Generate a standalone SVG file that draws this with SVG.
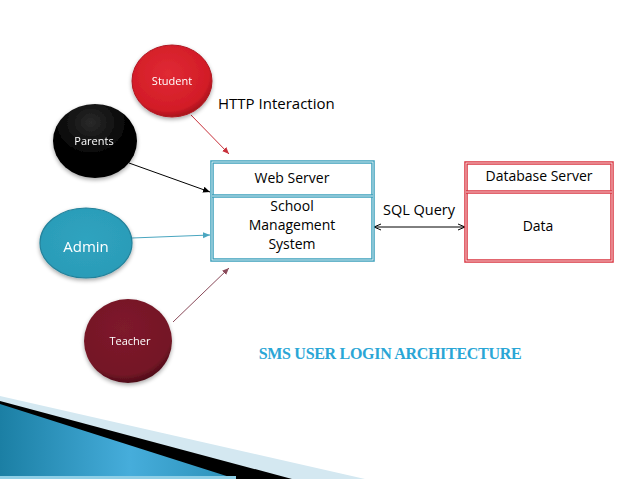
<svg xmlns="http://www.w3.org/2000/svg" width="638" height="479" viewBox="0 0 638 479">
<defs>
<style>
.lbl{font-family:"Open Sans","Liberation Sans",sans-serif;fill:#000;text-anchor:middle}
.box{font-size:14px}
.circ{font-family:"Open Sans","Liberation Sans",sans-serif;fill:#fff;text-anchor:middle;font-size:11px}
.conn{fill:none;stroke-width:1}
</style>
<radialGradient id="gRed" cx="0.45" cy="0.4" r="0.6">
<stop offset="0" stop-color="#e02a34"/><stop offset="0.85" stop-color="#d21c27"/><stop offset="1" stop-color="#a8121c"/>
</radialGradient>
<radialGradient id="gBlack" cx="0.45" cy="0.25" r="0.7">
<stop offset="0" stop-color="#2a2a2a"/><stop offset="0.6" stop-color="#050505"/><stop offset="1" stop-color="#000"/>
</radialGradient>
<radialGradient id="gTeal" cx="0.5" cy="0.45" r="0.6">
<stop offset="0" stop-color="#2fa3bf"/><stop offset="0.9" stop-color="#2b9cb8"/><stop offset="1" stop-color="#1f7d96"/>
</radialGradient>
<radialGradient id="gMaroon" cx="0.45" cy="0.35" r="0.65">
<stop offset="0" stop-color="#7e1a2b"/><stop offset="0.85" stop-color="#741626"/><stop offset="1" stop-color="#4e0c18"/>
</radialGradient>
<linearGradient id="gBlue" x1="0" y1="0" x2="1" y2="0">
<stop offset="0" stop-color="#1b7fa4"/><stop offset="0.55" stop-color="#46addb"/><stop offset="1" stop-color="#2b90b8"/>
</linearGradient>
<filter id="sh" x="-30%" y="-30%" width="160%" height="160%">
<feGaussianBlur in="SourceAlpha" stdDeviation="2"/><feOffset dx="0" dy="2" result="b"/>
<feComponentTransfer><feFuncA type="linear" slope="0.35"/></feComponentTransfer>
<feMerge><feMergeNode/><feMergeNode in="SourceGraphic"/></feMerge>
</filter>
<marker id="aRed" markerWidth="8" markerHeight="8" refX="7" refY="4" orient="auto" markerUnits="userSpaceOnUse"><path d="M0,1 L7,4 L0,7 Z" fill="#c8303a"/></marker>
<marker id="aBlack" markerWidth="8" markerHeight="8" refX="7" refY="4" orient="auto" markerUnits="userSpaceOnUse"><path d="M0,1 L7,4 L0,7 Z" fill="#000"/></marker>
<marker id="aTeal" markerWidth="8" markerHeight="8" refX="7" refY="4" orient="auto" markerUnits="userSpaceOnUse"><path d="M0,1 L7,4 L0,7 Z" fill="#4aa6c0"/></marker>
<marker id="aMaroon" markerWidth="8" markerHeight="8" refX="7" refY="4" orient="auto" markerUnits="userSpaceOnUse"><path d="M0,1 L7,4 L0,7 Z" fill="#8a4a5a"/></marker>
<marker id="aOpen" markerWidth="8" markerHeight="8" refX="7" refY="4" orient="auto-start-reverse" markerUnits="userSpaceOnUse"><path d="M0,1 L7,4 L0,7" fill="none" stroke="#000" stroke-width="1"/></marker>
</defs>
<rect width="638" height="479" fill="#fff"/>

<g id="decoration">
<polygon points="0,396 365,479 0,479" fill="#d4e8f1"/>
<polygon points="0,401 292,479 0,479" fill="#000"/>
<polygon points="0,404 236,479 0,479" fill="url(#gBlue)"/>
<rect x="0" y="476" width="236" height="3" fill="#8fcfe6"/>
</g>

<g id="connectors">
<line class="conn" x1="191" y1="115" x2="229" y2="154" stroke="#c8303a" marker-end="url(#aRed)"/>
<line class="conn" x1="129" y1="163" x2="210" y2="192" stroke="#000" marker-end="url(#aBlack)"/>
<line class="conn" x1="132" y1="238" x2="210" y2="235" stroke="#4aa6c0" marker-end="url(#aTeal)"/>
<line class="conn" x1="173" y1="322" x2="229" y2="268" stroke="#8a4a5a" marker-end="url(#aMaroon)"/>
<line class="conn" x1="374" y1="227" x2="465" y2="227" stroke="#000" marker-start="url(#aOpen)" marker-end="url(#aOpen)"/>
<text class="lbl" x="419" y="215" font-size="14.5">SQL Query</text>
<text class="lbl" x="218" y="109" font-size="15" style="text-anchor:start">HTTP Interaction</text>
</g>

<g id="student" filter="url(#sh)">
<ellipse cx="172" cy="81" rx="40" ry="36" fill="url(#gRed)" stroke="#b01620" stroke-width="1"/>
<text class="circ" x="172" y="85">Student</text>
</g>
<g id="parents" filter="url(#sh)">
<ellipse cx="95" cy="141" rx="42" ry="37" fill="url(#gBlack)"/>
<text class="circ" x="94" y="145">Parents</text>
</g>
<g id="admin" filter="url(#sh)">
<ellipse cx="86" cy="243" rx="46" ry="35" fill="url(#gTeal)" stroke="#23829b" stroke-width="1.2"/>
<text class="circ" x="86" y="252" style="font-size:15px">Admin</text>
</g>
<g id="teacher" filter="url(#sh)">
<ellipse cx="128" cy="341" rx="44" ry="42" fill="url(#gMaroon)"/>
<text class="circ" x="130" y="345">Teacher</text>
</g>

<g id="webserver">
<rect x="212" y="162" width="161" height="98" fill="#fff" stroke="#3a9fbb" stroke-width="3.5"/>
<rect x="212" y="162" width="161" height="98" fill="none" stroke="#fff" stroke-width="0.8"/>
<line x1="212" y1="196" x2="373" y2="196" stroke="#3a9fbb" stroke-width="3.5"/>
<line x1="212" y1="196" x2="373" y2="196" stroke="#fff" stroke-width="0.8"/>
<text class="lbl box" x="292" y="183">Web Server</text>
<text class="lbl box" x="292" y="211">School</text>
<text class="lbl box" x="292" y="230">Management</text>
<text class="lbl box" x="292" y="249">System</text>
</g>

<g id="database">
<rect x="466" y="163" width="146" height="98" fill="#fff" stroke="#d9333f" stroke-width="3.5"/>
<rect x="466" y="163" width="146" height="98" fill="none" stroke="#fff" stroke-width="0.8"/>
<line x1="466" y1="192" x2="612" y2="192" stroke="#d9333f" stroke-width="3.5"/>
<line x1="466" y1="192" x2="612" y2="192" stroke="#fff" stroke-width="0.8"/>
<text class="lbl box" x="539" y="181">Database Server</text>
<text class="lbl box" x="538" y="231">Data</text>
</g>

<g id="title">
<text x="390" y="359" font-family="'Liberation Serif',serif" font-weight="bold" font-size="16" fill="#2aa6d6" text-anchor="middle" letter-spacing="-0.3">SMS USER LOGIN ARCHITECTURE</text>
</g>
</svg>
